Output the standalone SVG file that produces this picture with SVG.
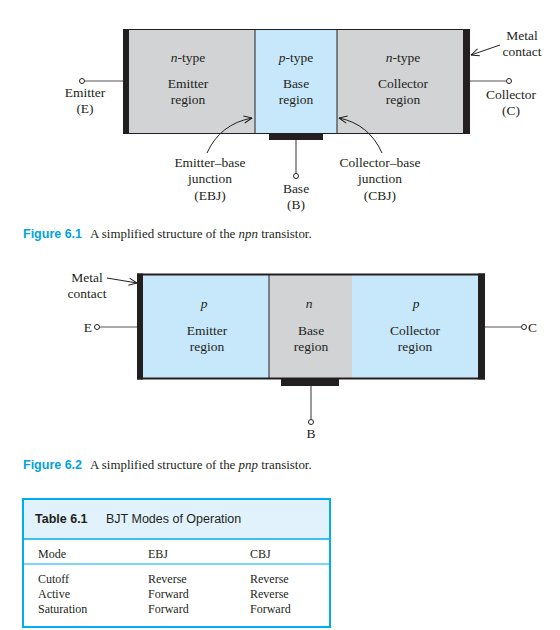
<svg xmlns="http://www.w3.org/2000/svg" width="560" height="630" viewBox="0 0 560 630">
<defs>
<marker id="ah" viewBox="0 0 10 10" refX="9.5" refY="5" markerWidth="9" markerHeight="9" orient="auto" markerUnits="userSpaceOnUse">
<path d="M0.5,1 L9.5,5 L0.5,9" fill="none" stroke="#231f20" stroke-width="1.1"/>
</marker>
</defs>
<style>
.t{font-family:"Liberation Serif","Times New Roman",serif;font-size:13.5px;fill:#231f20;text-anchor:middle}
.i{font-style:italic}
.grey{fill:#d1d3d4}
.blue{fill:#c7e8fa}
.bar{fill:#231f20}
.ln{stroke:#231f20;stroke-width:1;fill:none}
.lead{stroke:#555;stroke-width:1.2;fill:none}
.arr{stroke:#231f20;stroke-width:1;fill:none;marker-end:url(#ah)}
.term{fill:#fff;stroke:#231f20;stroke-width:1}
.cap{font-family:"Liberation Sans",Arial,sans-serif;font-weight:bold;font-size:12.5px;fill:#00a3e0}
.capt{font-family:"Liberation Serif","Times New Roman",serif;font-size:12.9px;fill:#231f20}
.tb{font-family:"Liberation Serif","Times New Roman",serif;font-size:12px;fill:#231f20}
.th{font-family:"Liberation Sans",Arial,sans-serif;font-size:12.5px;fill:#231f20}
</style>
<rect width="560" height="630" fill="#fff"/>

<!-- Figure 6.1 -->
<g id="npn-emitter">
<rect class="grey" x="129" y="29.5" width="126" height="104"/>
<text class="t" x="188" y="62"><tspan class="i">n</tspan>-type</text>
<text class="t" x="188" y="88">Emitter</text>
<text class="t" x="188" y="104">region</text>
</g>
<g id="npn-base">
<rect class="blue" x="255" y="29.5" width="82" height="104"/>
<text class="t" x="296" y="62"><tspan class="i">p</tspan>-type</text>
<text class="t" x="296" y="88">Base</text>
<text class="t" x="296" y="104">region</text>
</g>
<g id="npn-collector">
<rect class="grey" x="337" y="29.5" width="126" height="104"/>
<text class="t" x="403" y="62"><tspan class="i">n</tspan>-type</text>
<text class="t" x="403" y="88">Collector</text>
<text class="t" x="403" y="104">region</text>
</g>
<g id="npn-frame">
<line class="ln" x1="123" y1="29.5" x2="470" y2="29.5"/>
<line class="ln" x1="123" y1="133.5" x2="470" y2="133.5"/>
<line class="ln" x1="255" y1="29.5" x2="255" y2="133.5"/>
<line class="ln" x1="337" y1="29.5" x2="337" y2="133.5"/>
<rect class="bar" x="123" y="29" width="6" height="105"/>
<rect class="bar" x="463" y="29" width="7" height="105"/>
<rect class="bar" x="269" y="133" width="54" height="7"/>
</g>
<g id="npn-terminal-e">
<circle class="term" cx="82" cy="81" r="2.5"/>
<text class="t" x="85" y="97">Emitter</text>
<text class="t" x="85" y="113">(E)</text>
</g>
<g id="npn-terminal-c">
<circle class="term" cx="509" cy="81" r="2.5"/>
<text class="t" x="511" y="99">Collector</text>
<text class="t" x="511" y="115">(C)</text>
</g>
<g id="npn-terminal-b">
<circle class="term" cx="296" cy="176" r="2.5"/>
<text class="t" x="296" y="193">Base</text>
<text class="t" x="296" y="209">(B)</text>
</g>
<g id="npn-metal-label">
<text class="t" x="522" y="40">Metal</text>
<text class="t" x="522" y="56">contact</text>
</g>
<g id="npn-ebj-label">
<text class="t" x="210" y="167">Emitter–base</text>
<text class="t" x="210" y="183">junction</text>
<text class="t" x="210" y="200">(EBJ)</text>
</g>
<g id="npn-cbj-label">
<text class="t" x="380" y="167">Collector–base</text>
<text class="t" x="380" y="183">junction</text>
<text class="t" x="380" y="200">(CBJ)</text>
</g>

<!-- Figure 6.2 -->
<g id="pnp-emitter">
<rect class="blue" x="143" y="274" width="126" height="105"/>
<text class="t i" x="204" y="308">p</text>
<text class="t" x="207" y="335">Emitter</text>
<text class="t" x="207" y="351">region</text>
</g>
<g id="pnp-base">
<rect class="grey" x="269" y="274" width="83" height="105"/>
<text class="t i" x="309" y="308">n</text>
<text class="t" x="311" y="335">Base</text>
<text class="t" x="311" y="351">region</text>
</g>
<g id="pnp-collector">
<rect class="blue" x="352" y="274" width="126" height="105"/>
<text class="t i" x="416" y="308">p</text>
<text class="t" x="415" y="335">Collector</text>
<text class="t" x="415" y="351">region</text>
</g>
<g id="pnp-frame">
<line x1="137" y1="274.5" x2="485" y2="274.5" stroke="#231f20" stroke-width="2"/>
<line x1="137" y1="378.5" x2="485" y2="378.5" stroke="#231f20" stroke-width="2"/>
<line class="ln" x1="269" y1="274" x2="269" y2="379"/>
<rect class="bar" x="137" y="273.5" width="6" height="106"/>
<rect class="bar" x="478" y="273.5" width="7" height="106"/>
<rect class="bar" x="281" y="379" width="58" height="7"/>
</g>
<g id="pnp-terminal-e">
<circle class="term" cx="97" cy="327" r="2.5"/>
<text class="t" x="92" y="332" style="text-anchor:end">E</text>
</g>
<g id="pnp-terminal-c">
<circle class="term" cx="524" cy="327" r="2.5"/>
<text class="t" x="528" y="332" style="text-anchor:start">C</text>
</g>
<g id="pnp-terminal-b">
<circle class="term" cx="311" cy="422" r="2.5"/>
<text class="t" x="311" y="438">B</text>
</g>
<g id="pnp-metal-label">
<text class="t" x="87" y="282">Metal</text>
<text class="t" x="87" y="298">contact</text>
</g>

<!-- connectors -->
<g id="connectors">
<line class="lead" x1="84.5" y1="81" x2="123" y2="81"/>
<line class="lead" x1="470" y1="81" x2="506.5" y2="81"/>
<line class="lead" x1="296" y1="140" x2="296" y2="173.5"/>
<path class="arr" d="M500,45 L471,55"/>
<path class="arr" d="M207,153 Q220,124 252,118"/>
<path class="arr" d="M382,153 Q369,124 339,118"/>
<line class="lead" x1="99.5" y1="327" x2="137" y2="327"/>
<line class="lead" x1="485" y1="327" x2="521.5" y2="327"/>
<line class="lead" x1="311" y1="386" x2="311" y2="419.5"/>
<path class="arr" d="M107,278 L137,283"/>
</g>

<!-- captions -->
<g id="caption-6-1">
<text x="23" y="238"><tspan class="cap">Figure 6.1</tspan><tspan class="capt" x="90">A simplified structure of the <tspan font-style="italic">npn</tspan> transistor.</tspan></text>
</g>
<g id="caption-6-2">
<text x="23" y="469"><tspan class="cap">Figure 6.2</tspan><tspan class="capt" x="90">A simplified structure of the <tspan font-style="italic">pnp</tspan> transistor.</tspan></text>
</g>

<!-- Table 6.1 -->
<g id="table-6-1">
<rect x="23" y="499" width="307" height="40" fill="#e1f2fc"/>
<rect x="23" y="499" width="307" height="128" fill="none" stroke="#00aeef" stroke-width="2"/>
<line x1="23" y1="539" x2="330" y2="539" stroke="#00aeef" stroke-width="1.6"/>
<line x1="23" y1="564" x2="330" y2="564" stroke="#00aeef" stroke-width="1"/>
<text class="th" x="35" y="523" font-weight="bold">Table 6.1</text>
<text class="th" x="106" y="523">BJT Modes of Operation</text>
<text class="tb" x="38" y="558">Mode</text>
<text class="tb" x="148" y="558">EBJ</text>
<text class="tb" x="250" y="558">CBJ</text>
<text class="tb" x="38" y="583">Cutoff</text>
<text class="tb" x="148" y="583">Reverse</text>
<text class="tb" x="250" y="583">Reverse</text>
<text class="tb" x="38" y="598">Active</text>
<text class="tb" x="148" y="598">Forward</text>
<text class="tb" x="250" y="598">Reverse</text>
<text class="tb" x="38" y="613">Saturation</text>
<text class="tb" x="148" y="613">Forward</text>
<text class="tb" x="250" y="613">Forward</text>
</g>
</svg>
